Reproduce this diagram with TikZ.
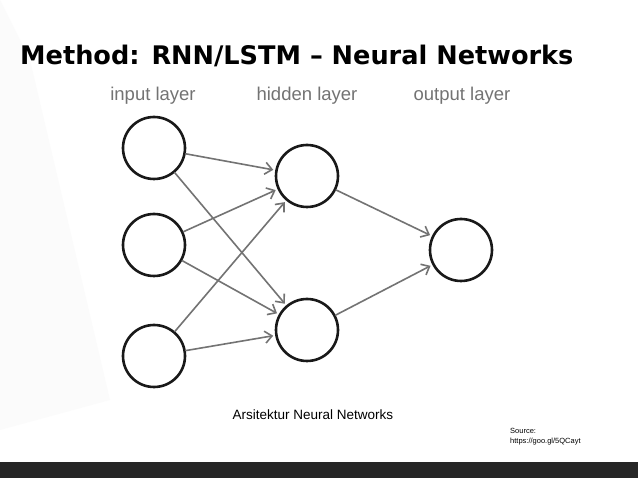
\documentclass[tikz,border=0pt]{standalone}
\usepackage{fontspec}
\setmainfont{Liberation Sans}
\newfontfamily\titlefont{DejaVu Sans}
\usetikzlibrary{arrows.meta}
\tikzset{
  neuron/.style={circle, draw=black!90, line width=2.6pt, minimum size=62pt, inner sep=0pt},
  layerlbl/.style={text=black!55, font=\fontsize{18.5}{20}\selectfont},
  link/.style={draw=black!55, line width=1.6pt, -{Straight Barb[length=7pt,width=12pt,line width=1.6pt]}, shorten >=2pt}
}
\begin{document}
\begin{tikzpicture}[x=1pt, y=-1pt, line cap=round, line join=round]
	%Background
	\fill[white] (0,0) rectangle (638,478);
	\fill[black!1.5] (0,0) -- (30,60) -- (110,400) -- (0,430) -- cycle;
	\fill[black!85] (0,462) rectangle (638,478);

	%Title
	\node[anchor=base west, font=\titlefont\bfseries\fontsize{25.6}{28}\selectfont, inner sep=0pt] (title) at (20,65) {Method: RNN/LSTM – Neural Networks};

	%Layer labels
	\node[layerlbl] (lin) at (153,96) {input layer};
	\node[layerlbl] (lhid) at (307,96) {hidden layer};
	\node[layerlbl] (lout) at (462,96) {output layer};

	%Neurons
	\node[neuron] (i1) at (154,148) {};
	\node[neuron] (i2) at (154,245) {};
	\node[neuron] (i3) at (154,356) {};
	\node[neuron] (h1) at (307,176) {};
	\node[neuron] (h2) at (307,330) {};
	\node[neuron] (o1) at (461,250) {};

	%Connections
	\foreach \i in {i1,i2,i3}{
	  \foreach \h in {h1,h2}{
	    \draw[link] (\i) -- (\h);
	  }
	}
	\foreach \h in {h1,h2}{
	  \draw[link] (\h) -- (o1);
	}

	%Caption and source
	\node[font=\fontsize{13.5}{15}\selectfont] (cap) at (313,415) {Arsitektur Neural Networks};
	\node[anchor=north west, align=left, inner sep=0pt, font=\fontsize{7.5}{10}\selectfont] (src) at (510,428) {Source:\\https://goo.gl/5QCayt};
\end{tikzpicture}
\end{document}
